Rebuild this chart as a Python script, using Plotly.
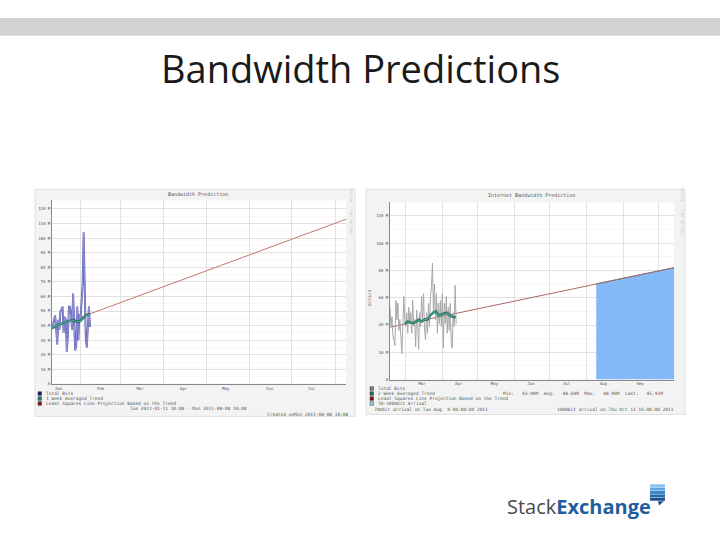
import plotly.graph_objects as go
import pandas as pd

W, H = 720, 540

def px(x):
    return x / W

def py(y):
    return 1 - y / H

# ---------------- data: left chart (Bandwidth Prediction) ----------------
left_start = "2011-01-11 10:08"
left_end = "2011-08-08 10:08"
left_bits_step = "18h"
left_bits = [38, 42, 44, 47, 36, 27, 44, 37, 50, 51, 53, 35, 46, 44, 22, 32,
             53, 53, 48, 37, 62, 41, 23, 26, 53, 30, 48, 44, 60, 68, 104, 57,
             31, 25, 37, 53, 39]
left_trend_dates = ["2011-01-11 10:00", "2011-01-13 10:00", "2011-01-15 10:00",
                    "2011-01-17 10:00", "2011-01-19 10:00", "2011-01-21 10:00",
                    "2011-01-23 10:00", "2011-01-25 10:00", "2011-01-27 10:00",
                    "2011-01-29 10:00", "2011-01-31 10:00", "2011-02-02 10:00",
                    "2011-02-04 10:00", "2011-02-07 10:00"]
left_trend = [38, 39.5, 40.5, 41, 41.5, 42, 43, 44, 43.5, 42.5, 43, 45, 47, 48]
left_proj_dates = [left_start, left_end]
left_proj = [38.4, 113]
left_ticks_x = ["2011-01-16", "2011-02-15", "2011-03-15", "2011-04-15",
                "2011-05-15", "2011-06-15", "2011-07-15"]
left_ticks_x_text = ["Jan", "Feb", "Mar", "Apr", "May", "Jun", "Jul"]
left_month_starts = ["2011-02-01", "2011-03-01", "2011-04-01", "2011-05-01",
                     "2011-06-01", "2011-07-01", "2011-08-01"]
left_ticks_y = [0, 10, 20, 30, 40, 50, 60, 70, 80, 90, 100, 110, 120]
left_ticks_y_text = ["0", "10 M", "20 M", "30 M", "40 M", "50 M", "60 M",
                     "70 M", "80 M", "90 M", "100 M", "110 M", "120 M"]

# ---------------- data: right chart (Internet Bandwidth Prediction) ----------------
right_start = "2011-02-16 00:00"
right_end = "2011-10-13 16:00"
right_bits_step = "20h"
right_bits = [53, 39, 46, 32, 29, 25, 58, 44, 56, 36, 44, 34, 19, 39, 61, 44,
              39, 49, 34, 53, 41, 49, 34, 58, 39, 44, 24, 51, 41, 22, 49, 39,
              61, 44, 63, 36, 29, 49, 34, 56, 39, 61, 68, 85.5, 49, 70, 44, 63,
              34, 56, 41, 58, 39, 63, 23, 56, 41, 61, 34, 53, 36, 56, 27, 23,
              49, 39, 69, 41]
right_trend_start = "2011-02-28 14:00"
right_trend_step = "57h"
right_trend = [41, 42.5, 42, 41.3, 42.5, 44, 42.5, 44, 44, 47, 49, 50, 47, 48,
               48.5, 49, 47, 46, 45.7]
right_proj_dates = [right_start, right_end]
right_proj = [38.4, 82]
right_arrival_dates = ["2011-08-09 00:00", right_end]
right_arrival = [70.2, 82]
right_ticks_x = ["2011-03-15", "2011-04-15", "2011-05-15", "2011-06-15",
                 "2011-07-15", "2011-08-15", "2011-09-15"]
right_ticks_x_text = ["Mar", "Apr", "May", "Jun", "Jul", "Aug", "Sep"]
right_month_starts = ["2011-03-01", "2011-04-01", "2011-05-01", "2011-06-01",
                      "2011-07-01", "2011-08-01", "2011-09-01", "2011-10-01"]
right_ticks_y = [0, 20, 40, 60, 80, 100, 120]
right_ticks_y_text = ["0", "20 M", "40 M", "60 M", "80 M", "100 M", "120 M"]

left_bits_dates = pd.date_range(left_start, periods=len(left_bits), freq=left_bits_step)
right_bits_dates = pd.date_range(right_start, periods=len(right_bits), freq=right_bits_step)
right_trend_dates = pd.date_range(right_trend_start, periods=len(right_trend), freq=right_trend_step)

MONO = "DejaVu Sans Mono"
TXT = "#555555"

fig = go.Figure()

# left traces
fig.add_trace(go.Scatter(x=left_proj_dates, y=left_proj, mode="lines",
                         line=dict(color="#c07a6e", width=1), xaxis="x", yaxis="y"))
fig.add_trace(go.Scatter(x=left_bits_dates, y=left_bits, mode="lines",
                         line=dict(color="#5a5aa8", width=1.9), xaxis="x", yaxis="y"))
fig.add_trace(go.Scatter(x=left_bits_dates, y=left_bits, mode="lines",
                         line=dict(color="#9494dc", width=1.0), xaxis="x", yaxis="y"))
fig.add_trace(go.Scatter(x=left_trend_dates, y=left_trend, mode="lines",
                         line=dict(color="#1f5f55", width=2.4), xaxis="x", yaxis="y"))
fig.add_trace(go.Scatter(x=left_trend_dates, y=left_trend, mode="lines",
                         line=dict(color="#45b59d", width=1.1), xaxis="x", yaxis="y"))

# right traces
fig.add_trace(go.Scatter(x=right_arrival_dates, y=right_arrival, mode="lines",
                         fill="tozeroy", fillcolor="#84b9f7",
                         line=dict(color="#5a7fb5", width=1), xaxis="x2", yaxis="y2"))
fig.add_trace(go.Scatter(x=right_proj_dates, y=right_proj, mode="lines",
                         line=dict(color="#a86a66", width=1), xaxis="x2", yaxis="y2"))
fig.add_trace(go.Scatter(x=right_bits_dates, y=right_bits, mode="lines",
                         line=dict(color="#a8a8a8", width=1), xaxis="x2", yaxis="y2"))
fig.add_trace(go.Scatter(x=right_trend_dates, y=right_trend, mode="lines",
                         line=dict(color="#1f5f55", width=2.4), xaxis="x2", yaxis="y2"))
fig.add_trace(go.Scatter(x=right_trend_dates, y=right_trend, mode="lines",
                         line=dict(color="#3fae96", width=1.1), xaxis="x2", yaxis="y2"))

tickfont = dict(family=MONO, size=4, color=TXT)

def xaxis(domain, rng, tv, tt, ms, anchor):
    return dict(domain=domain, range=rng, type="date", anchor=anchor,
                tickmode="array", tickvals=tv, ticktext=tt, tickfont=tickfont,
                showgrid=False, showline=True, linecolor="#888888", linewidth=1,
                ticks="", zeroline=False, fixedrange=True,
                minor=dict(tickmode="array", tickvals=ms, showgrid=True,
                           gridcolor="#e3e3e3", gridwidth=1, ticks=""))

def yaxis(domain, rng, tv, tt, anchor, mdt):
    return dict(domain=domain, range=rng, anchor=anchor,
                tickmode="array", tickvals=tv, ticktext=tt, tickfont=tickfont,
                showgrid=True, gridcolor="#e4e0e0", gridwidth=1,
                showline=True, linecolor="#888888", linewidth=1,
                ticks="", zeroline=False, fixedrange=True,
                minor=dict(dtick=mdt, showgrid=True, gridcolor="rgba(230,170,170,0.12)",
                           gridwidth=1, ticks=""))

shapes = []
# top gray bar
shapes.append(dict(type="rect", xref="paper", yref="paper", x0=0, x1=1,
                   y0=py(36), y1=py(18), fillcolor="#d2d2d2", line=dict(width=0),
                   layer="below"))
# chart canvases
shapes.append(dict(type="rect", xref="paper", yref="paper", x0=px(35), x1=px(355),
                   y0=py(418), y1=py(190), fillcolor="#f3f3f3",
                   line=dict(color="#e0e0e0", width=1), layer="below"))
shapes.append(dict(type="rect", xref="paper", yref="paper", x0=px(366), x1=px(685),
                   y0=py(416), y1=py(190), fillcolor="#f3f3f3",
                   line=dict(color="#e0e0e0", width=1), layer="below"))
# plot areas
shapes.append(dict(type="rect", xref="paper", yref="paper", x0=px(52), x1=px(346),
                   y0=py(385.3), y1=py(201), fillcolor="white", line=dict(width=0),
                   layer="below"))
shapes.append(dict(type="rect", xref="paper", yref="paper", x0=px(390), x1=px(674),
                   y0=py(381), y1=py(203), fillcolor="white", line=dict(width=0),
                   layer="below"))

# legend squares
def sq(x, y, color):
    shapes.append(dict(type="rect", xref="paper", yref="paper", x0=px(x), x1=px(x + 3.5),
                       y0=py(y + 1.8), y1=py(y - 1.8), fillcolor=color,
                       line=dict(color="#333333", width=0.5)))

sq(38, 395, "#1a1a6e")
sq(38, 400, "#2e7f73")
sq(38, 405, "#8b1a1a")
sq(370, 390, "#808080")
sq(370, 395, "#2f6f60")
sq(370, 400, "#7a1010")
sq(370, 405, "#a8cff0")

# StackExchange logo icon bars
icon_colors = ["#8ec3f0", "#5ea4e4", "#3f86cc", "#2a68a8", "#1d4f8a"]
for i, c in enumerate(icon_colors):
    y0 = 486 + i * 3.4
    shapes.append(dict(type="rect", xref="paper", yref="paper", x0=px(650), x1=px(665),
                       y0=py(y0 + 3.0), y1=py(y0), fillcolor=c, line=dict(width=0)))
shapes.append(dict(type="path", xref="paper", yref="paper",
                   path=f"M {px(658)} {py(503)} L {px(664)} {py(503)} L {px(659)} {py(507.5)} Z",
                   fillcolor="#1d4f8a", line=dict(width=0)))

ann = []

def t(x, y, text, size=4.5, anchor="left", color=TXT, family=MONO, angle=0):
    ann.append(dict(xref="paper", yref="paper", x=px(x), y=py(y), text=text,
                    showarrow=False, xanchor=anchor, yanchor="middle",
                    font=dict(family=family, size=size, color=color), textangle=angle))

t(360, 68, "Bandwidth Predictions", size=38, anchor="center", color="#1a1a1a",
  family="Open Sans")
t(198, 195, "Bandwidth Prediction", size=5, anchor="center")
t(531, 196, "Internet Bandwidth Prediction", size=5, anchor="center")
t(44, 395, "Total Bits")
t(44, 400, "1 Week Averaged Trend")
t(44, 405, "Least Squares Line Projection Based on the Trend")
t(188, 410, "Tue 2011-01-11 10:08 - Mon 2011-08-08 10:08", anchor="center")
t(351, 416, "Created onMon 2011-08-08 10:08", anchor="right")
t(376, 390, "Total Bits")
t(376, 395, "2 Week Averaged Trend")
t(376, 400, "Least Squares Line Projection Based on the Trend")
t(376, 405, "70-100mbit Arrival")
t(501, 395, "Min:   43.90M  Avg:   44.60M  Max:   48.90M  Last:   45.91M")
t(372, 411, "70mbit arrival on Tue Aug  9 00:00:00 2011")
t(676, 411, "100mbit arrival on Thu Oct 13 16:00:00 2011", anchor="right")
t(370, 298, "bits/s", size=4.5, anchor="center", angle=-90)
t(351, 212, "RRDTOOL / TOBI OETIKER", size=3.5, anchor="center", color="#c8c8c8", angle=90)
t(682, 212, "RRDTOOL / TOBI OETIKER", size=3.5, anchor="center", color="#c8c8c8", angle=90)
t(579, 508, "Stack<b><span style='color:#1f5e9e'>Exchange</span></b>", size=20,
  anchor="center", color="#4a4a4a", family="Open Sans")

fig.update_layout(
    width=W, height=H, margin=dict(l=0, r=0, t=0, b=0),
    paper_bgcolor="white", plot_bgcolor="rgba(0,0,0,0)", showlegend=False,
    xaxis=xaxis([px(52), px(346)], [left_start, left_end], left_ticks_x,
                left_ticks_x_text, left_month_starts, "y"),
    yaxis=yaxis([py(385.3), py(201)], [0, 126], left_ticks_y, left_ticks_y_text, "x", 5),
    xaxis2=xaxis([px(390), px(674)], [right_start, right_end], right_ticks_x,
                 right_ticks_x_text, right_month_starts, "y2"),
    yaxis2=yaxis([py(381), py(203)], [0, 130], right_ticks_y, right_ticks_y_text, "x2", 10),
    shapes=shapes, annotations=ann,
)

fig.write_html("out.html", config={"displayModeBar": False},
               post_script="document.body.style.margin='0px';document.body.style.overflow='hidden';")
